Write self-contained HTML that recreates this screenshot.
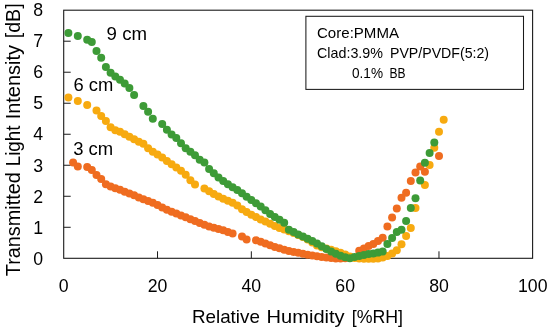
<!DOCTYPE html>
<html><head><meta charset="utf-8"><title>Transmitted Light Intensity vs Relative Humidity</title>
<style>
html,body{margin:0;padding:0;background:#fff;}
body{width:550px;height:329px;overflow:hidden;}
svg{display:block;font-family:"Liberation Sans",sans-serif;fill:#000;}
</style></head><body>
<svg width="550" height="329" viewBox="0 0 550 329">
<rect x="0" y="0" width="550" height="329" fill="#fff"/>
<rect x="63.7" y="10.2" width="468.9" height="248.1" fill="none" stroke="#1a1a1a" stroke-width="1.1"/>
<g stroke="#1a1a1a" stroke-width="1"><line x1="63.7" y1="227.29" x2="70.7" y2="227.29"/><line x1="63.7" y1="196.28" x2="70.7" y2="196.28"/><line x1="63.7" y1="165.26" x2="70.7" y2="165.26"/><line x1="63.7" y1="134.25" x2="70.7" y2="134.25"/><line x1="63.7" y1="103.24" x2="70.7" y2="103.24"/><line x1="63.7" y1="72.22" x2="70.7" y2="72.22"/><line x1="63.7" y1="41.21" x2="70.7" y2="41.21"/><line x1="157.52" y1="258.3" x2="157.52" y2="251.3"/><line x1="251.34" y1="258.3" x2="251.34" y2="251.3"/><line x1="345.16" y1="258.3" x2="345.16" y2="251.3"/><line x1="438.98" y1="258.3" x2="438.98" y2="251.3"/></g>
<g fill="#EF6C20"><circle cx="73.1" cy="162.5" r="4.0"/><circle cx="77.8" cy="166.5" r="4.0"/><circle cx="87.2" cy="167.1" r="4.0"/><circle cx="91.8" cy="170.1" r="4.0"/><circle cx="96.5" cy="175.1" r="4.0"/><circle cx="101.2" cy="179.1" r="4.0"/><circle cx="105.9" cy="184.2" r="4.0"/><circle cx="110.6" cy="186.6" r="4.0"/><circle cx="115.3" cy="188.2" r="4.0"/><circle cx="120.0" cy="189.8" r="4.0"/><circle cx="124.7" cy="191.8" r="4.0"/><circle cx="129.4" cy="193.6" r="4.0"/><circle cx="134.1" cy="195.3" r="4.0"/><circle cx="138.8" cy="197.4" r="4.0"/><circle cx="143.4" cy="199.2" r="4.0"/><circle cx="148.1" cy="201.0" r="4.0"/><circle cx="152.8" cy="202.7" r="4.0"/><circle cx="157.5" cy="205.0" r="4.0"/><circle cx="162.2" cy="207.5" r="4.0"/><circle cx="166.9" cy="209.7" r="4.0"/><circle cx="171.6" cy="211.7" r="4.0"/><circle cx="176.3" cy="213.6" r="4.0"/><circle cx="181.0" cy="215.4" r="4.0"/><circle cx="185.7" cy="217.3" r="4.0"/><circle cx="190.4" cy="219.2" r="4.0"/><circle cx="195.0" cy="221.1" r="4.0"/><circle cx="199.7" cy="223.0" r="4.0"/><circle cx="204.4" cy="224.8" r="4.0"/><circle cx="209.1" cy="226.6" r="4.0"/><circle cx="213.8" cy="227.8" r="4.0"/><circle cx="218.5" cy="229.0" r="4.0"/><circle cx="223.2" cy="230.3" r="4.0"/><circle cx="227.9" cy="231.9" r="4.0"/><circle cx="232.6" cy="233.6" r="4.0"/><circle cx="242.0" cy="236.6" r="4.0"/><circle cx="246.6" cy="239.6" r="4.0"/><circle cx="256.0" cy="240.3" r="4.0"/><circle cx="260.7" cy="241.8" r="4.0"/><circle cx="265.4" cy="243.4" r="4.0"/><circle cx="270.1" cy="245.2" r="4.0"/><circle cx="274.8" cy="246.9" r="4.0"/><circle cx="279.5" cy="248.3" r="4.0"/><circle cx="284.2" cy="249.8" r="4.0"/><circle cx="288.9" cy="250.9" r="4.0"/><circle cx="293.6" cy="251.9" r="4.0"/><circle cx="298.2" cy="252.8" r="4.0"/><circle cx="302.9" cy="253.8" r="4.0"/><circle cx="307.6" cy="254.7" r="4.0"/><circle cx="312.3" cy="255.5" r="4.0"/><circle cx="317.0" cy="256.3" r="4.0"/><circle cx="321.7" cy="257.0" r="4.0"/><circle cx="326.4" cy="257.6" r="4.0"/><circle cx="331.1" cy="258.1" r="4.0"/><circle cx="335.8" cy="258.4" r="4.0"/><circle cx="340.5" cy="258.6" r="4.0"/><circle cx="345.2" cy="258.3" r="4.0"/><circle cx="359.2" cy="250.7" r="4.0"/><circle cx="363.9" cy="248.4" r="4.0"/><circle cx="368.6" cy="246.1" r="4.0"/><circle cx="373.3" cy="244.0" r="4.0"/><circle cx="378.0" cy="240.9" r="4.0"/><circle cx="382.7" cy="237.8" r="4.0"/><circle cx="387.4" cy="226.5" r="4.0"/><circle cx="392.1" cy="217.5" r="4.0"/><circle cx="396.8" cy="208.4" r="4.0"/><circle cx="401.5" cy="197.8" r="4.0"/><circle cx="406.1" cy="192.8" r="4.0"/><circle cx="410.8" cy="181.1" r="4.0"/><circle cx="415.5" cy="172.5" r="4.0"/><circle cx="420.2" cy="166.5" r="4.0"/><circle cx="424.9" cy="171.7" r="4.0"/><circle cx="439.0" cy="156.0" r="4.0"/></g>
<g fill="#F7AA10"><circle cx="68.4" cy="97.5" r="4.0"/><circle cx="77.8" cy="101.1" r="4.0"/><circle cx="87.2" cy="105.1" r="4.0"/><circle cx="96.5" cy="110.5" r="4.0"/><circle cx="101.2" cy="116.1" r="4.0"/><circle cx="105.9" cy="121.1" r="4.0"/><circle cx="110.6" cy="127.2" r="4.0"/><circle cx="115.3" cy="130.2" r="4.0"/><circle cx="120.0" cy="131.8" r="4.0"/><circle cx="124.7" cy="134.2" r="4.0"/><circle cx="129.4" cy="136.8" r="4.0"/><circle cx="134.1" cy="139.2" r="4.0"/><circle cx="138.8" cy="141.8" r="4.0"/><circle cx="143.4" cy="143.8" r="4.0"/><circle cx="148.1" cy="148.2" r="4.0"/><circle cx="152.8" cy="151.7" r="4.0"/><circle cx="157.5" cy="154.6" r="4.0"/><circle cx="162.2" cy="157.6" r="4.0"/><circle cx="166.9" cy="160.9" r="4.0"/><circle cx="171.6" cy="164.2" r="4.0"/><circle cx="176.3" cy="167.5" r="4.0"/><circle cx="181.0" cy="170.8" r="4.0"/><circle cx="185.7" cy="174.7" r="4.0"/><circle cx="190.4" cy="180.3" r="4.0"/><circle cx="195.0" cy="184.6" r="4.0"/><circle cx="204.4" cy="188.6" r="4.0"/><circle cx="209.1" cy="191.3" r="4.0"/><circle cx="213.8" cy="194.0" r="4.0"/><circle cx="218.5" cy="196.4" r="4.0"/><circle cx="223.2" cy="198.7" r="4.0"/><circle cx="227.9" cy="200.8" r="4.0"/><circle cx="232.6" cy="202.8" r="4.0"/><circle cx="237.3" cy="205.4" r="4.0"/><circle cx="242.0" cy="209.3" r="4.0"/><circle cx="246.6" cy="212.1" r="4.0"/><circle cx="251.3" cy="214.8" r="4.0"/><circle cx="256.0" cy="217.1" r="4.0"/><circle cx="260.7" cy="219.4" r="4.0"/><circle cx="265.4" cy="221.6" r="4.0"/><circle cx="270.1" cy="223.8" r="4.0"/><circle cx="274.8" cy="225.9" r="4.0"/><circle cx="279.5" cy="227.9" r="4.0"/><circle cx="284.2" cy="229.4" r="4.0"/><circle cx="288.9" cy="231.2" r="4.0"/><circle cx="293.6" cy="233.0" r="4.0"/><circle cx="298.2" cy="235.0" r="4.0"/><circle cx="302.9" cy="236.9" r="4.0"/><circle cx="307.6" cy="239.4" r="4.0"/><circle cx="312.3" cy="242.5" r="4.0"/><circle cx="317.0" cy="245.4" r="4.0"/><circle cx="321.7" cy="247.2" r="4.0"/><circle cx="326.4" cy="248.6" r="4.0"/><circle cx="331.1" cy="249.8" r="4.0"/><circle cx="335.8" cy="251.2" r="4.0"/><circle cx="340.5" cy="252.8" r="4.0"/><circle cx="345.2" cy="254.5" r="4.0"/><circle cx="349.9" cy="256.6" r="4.0"/><circle cx="354.5" cy="258.0" r="4.0"/><circle cx="359.2" cy="258.5" r="4.0"/><circle cx="363.9" cy="258.7" r="4.0"/><circle cx="368.6" cy="258.8" r="4.0"/><circle cx="373.3" cy="258.7" r="4.0"/><circle cx="378.0" cy="258.4" r="4.0"/><circle cx="382.7" cy="257.4" r="4.0"/><circle cx="387.4" cy="256.0" r="4.0"/><circle cx="392.1" cy="253.6" r="4.0"/><circle cx="396.8" cy="250.3" r="4.0"/><circle cx="401.5" cy="244.2" r="4.0"/><circle cx="406.1" cy="236.1" r="4.0"/><circle cx="410.8" cy="228.1" r="4.0"/><circle cx="415.5" cy="208.0" r="4.0"/><circle cx="424.9" cy="185.1" r="4.0"/><circle cx="429.6" cy="165.0" r="4.0"/><circle cx="434.3" cy="147.8" r="4.0"/><circle cx="439.0" cy="131.7" r="4.0"/><circle cx="443.7" cy="119.8" r="4.0"/></g>
<g fill="#3D9B37"><circle cx="68.4" cy="33.0" r="4.0"/><circle cx="77.8" cy="36.1" r="4.0"/><circle cx="87.2" cy="39.7" r="4.0"/><circle cx="91.8" cy="42.1" r="4.0"/><circle cx="96.5" cy="50.9" r="4.0"/><circle cx="101.2" cy="57.7" r="4.0"/><circle cx="105.9" cy="67.0" r="4.0"/><circle cx="110.6" cy="72.8" r="4.0"/><circle cx="115.3" cy="76.6" r="4.0"/><circle cx="120.0" cy="79.7" r="4.0"/><circle cx="124.7" cy="83.4" r="4.0"/><circle cx="129.4" cy="88.1" r="4.0"/><circle cx="134.1" cy="95.1" r="4.0"/><circle cx="143.4" cy="106.1" r="4.0"/><circle cx="148.1" cy="111.7" r="4.0"/><circle cx="152.8" cy="118.7" r="4.0"/><circle cx="162.2" cy="124.0" r="4.0"/><circle cx="166.9" cy="129.7" r="4.0"/><circle cx="171.6" cy="134.5" r="4.0"/><circle cx="176.3" cy="138.1" r="4.0"/><circle cx="181.0" cy="143.2" r="4.0"/><circle cx="185.7" cy="148.2" r="4.0"/><circle cx="190.4" cy="151.8" r="4.0"/><circle cx="195.0" cy="155.2" r="4.0"/><circle cx="199.7" cy="159.8" r="4.0"/><circle cx="204.4" cy="162.6" r="4.0"/><circle cx="209.1" cy="169.1" r="4.0"/><circle cx="213.8" cy="173.3" r="4.0"/><circle cx="218.5" cy="177.6" r="4.0"/><circle cx="223.2" cy="181.0" r="4.0"/><circle cx="227.9" cy="184.3" r="4.0"/><circle cx="232.6" cy="187.3" r="4.0"/><circle cx="237.3" cy="190.0" r="4.0"/><circle cx="242.0" cy="193.2" r="4.0"/><circle cx="246.6" cy="196.8" r="4.0"/><circle cx="251.3" cy="200.1" r="4.0"/><circle cx="256.0" cy="203.2" r="4.0"/><circle cx="260.7" cy="206.4" r="4.0"/><circle cx="265.4" cy="210.2" r="4.0"/><circle cx="270.1" cy="214.1" r="4.0"/><circle cx="274.8" cy="216.9" r="4.0"/><circle cx="279.5" cy="219.7" r="4.0"/><circle cx="284.2" cy="222.7" r="4.0"/><circle cx="288.9" cy="229.8" r="4.0"/><circle cx="293.6" cy="232.1" r="4.0"/><circle cx="298.2" cy="234.4" r="4.0"/><circle cx="302.9" cy="236.6" r="4.0"/><circle cx="307.6" cy="238.8" r="4.0"/><circle cx="312.3" cy="241.1" r="4.0"/><circle cx="317.0" cy="243.6" r="4.0"/><circle cx="321.7" cy="246.3" r="4.0"/><circle cx="326.4" cy="249.1" r="4.0"/><circle cx="331.1" cy="251.5" r="4.0"/><circle cx="335.8" cy="253.7" r="4.0"/><circle cx="340.5" cy="255.7" r="4.0"/><circle cx="345.2" cy="257.2" r="4.0"/><circle cx="349.9" cy="258.2" r="4.0"/><circle cx="354.5" cy="257.1" r="4.0"/><circle cx="359.2" cy="256.0" r="4.0"/><circle cx="363.9" cy="255.0" r="4.0"/><circle cx="368.6" cy="254.1" r="4.0"/><circle cx="373.3" cy="253.6" r="4.0"/><circle cx="378.0" cy="252.6" r="4.0"/><circle cx="382.7" cy="251.6" r="4.0"/><circle cx="387.4" cy="244.0" r="4.0"/><circle cx="392.1" cy="237.9" r="4.0"/><circle cx="396.8" cy="231.9" r="4.0"/><circle cx="401.5" cy="229.7" r="4.0"/><circle cx="406.1" cy="221.1" r="4.0"/><circle cx="410.8" cy="207.9" r="4.0"/><circle cx="415.5" cy="198.2" r="4.0"/><circle cx="420.2" cy="180.5" r="4.0"/><circle cx="424.9" cy="162.8" r="4.0"/><circle cx="429.6" cy="153.1" r="4.0"/><circle cx="434.3" cy="142.6" r="4.0"/></g>
<g font-size="17.7px"><text x="38.2" y="264.5" text-anchor="middle">0</text><text x="38.2" y="233.5" text-anchor="middle">1</text><text x="38.2" y="202.5" text-anchor="middle">2</text><text x="38.2" y="171.5" text-anchor="middle">3</text><text x="38.2" y="140.4" text-anchor="middle">4</text><text x="38.2" y="109.4" text-anchor="middle">5</text><text x="38.2" y="78.4" text-anchor="middle">6</text><text x="38.2" y="47.4" text-anchor="middle">7</text><text x="38.2" y="16.4" text-anchor="middle">8</text><text x="63.7" y="292.4" text-anchor="middle">0</text><text x="157.5" y="292.4" text-anchor="middle">20</text><text x="251.3" y="292.4" text-anchor="middle">40</text><text x="345.2" y="292.4" text-anchor="middle">60</text><text x="439.0" y="292.4" text-anchor="middle">80</text><text x="532.8" y="292.4" text-anchor="middle">100</text></g>
<g font-size="17.6px">
<text x="106.6" y="40.2" textLength="40.4" lengthAdjust="spacingAndGlyphs">9 cm</text>
<text x="73.4" y="91.1" textLength="39.8" lengthAdjust="spacingAndGlyphs">6 cm</text>
<text x="73.2" y="154.8" textLength="40" lengthAdjust="spacingAndGlyphs">3 cm</text>
</g>
<text font-size="18.1px" x="191.90" y="322.7" textLength="68.00" lengthAdjust="spacingAndGlyphs">Relative</text><text font-size="18.1px" x="266.60" y="322.7" textLength="78.06" lengthAdjust="spacingAndGlyphs">Humidity</text><text font-size="18.1px" x="351.80" y="322.7" textLength="51.25" lengthAdjust="spacingAndGlyphs">[%RH]</text>
<text font-size="19.4px" transform="translate(19.8 276.20) rotate(-90)" textLength="104.05" lengthAdjust="spacingAndGlyphs">Transmitted</text><text font-size="19.4px" transform="translate(19.8 166.30) rotate(-90)" textLength="40.86" lengthAdjust="spacingAndGlyphs">Light</text><text font-size="19.4px" transform="translate(19.8 119.30) rotate(-90)" textLength="74.26" lengthAdjust="spacingAndGlyphs">Intensity</text><text font-size="19.4px" transform="translate(19.8 38.30) rotate(-90)" textLength="34.91" lengthAdjust="spacingAndGlyphs">[dB]</text>
<rect x="305.9" y="16.3" width="217.6" height="73.1" fill="#fff" stroke="#1a1a1a" stroke-width="1.05"/>
<g font-size="14.2px"><text x="317.00" y="37.9" textLength="82.01" lengthAdjust="spacingAndGlyphs">Core:PMMA</text><text x="317.00" y="57.9" textLength="66.01" lengthAdjust="spacingAndGlyphs">Clad:3.9%</text><text x="390.00" y="57.9" textLength="99.02" lengthAdjust="spacingAndGlyphs">PVP/PVDF(5:2)</text><text x="352.00" y="77.9" textLength="31.00" lengthAdjust="spacingAndGlyphs">0.1%</text><text x="389.50" y="77.9" textLength="16.05" lengthAdjust="spacingAndGlyphs">BB</text></g>
</svg>
</body></html>
